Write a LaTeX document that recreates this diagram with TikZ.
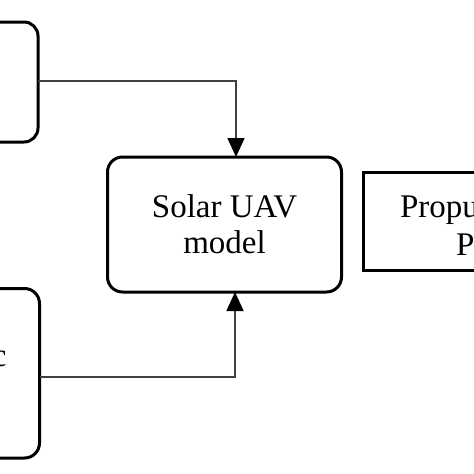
\documentclass[tikz,border=0pt]{standalone}
\usepackage{fontspec}
\setmainfont{Liberation Serif}
\usetikzlibrary{arrows.meta}
\begin{document}
\begin{tikzpicture}[x=1pt,y=-1pt,
  box/.style={draw=black, line width=3pt, inner sep=0pt, outer sep=0pt, rectangle},
  rbox/.style={box, rounded corners=15pt},
  conn/.style={draw=black!75, line width=1.6pt, -{Triangle[length=19pt,width=17pt,color=black]}},
  lbl/.style={font=\fontsize{33}{36}\selectfont, inner sep=0pt, outer sep=0pt, text=black}]
\useasboundingbox (0,0) rectangle (474,474);
\fill[white] (0,0) rectangle (474,474);
\clip (0,0) rectangle (474,474);
% boxes
\node[rbox, rounded corners=14pt, minimum width=197pt, minimum height=120pt] (tl) at (-60.5,82) {};
\node[rbox, minimum width=200pt, minimum height=169.5pt] (bl) at (-60.5,373.25) {};
\node[rbox, minimum width=234pt, minimum height=135pt, lbl, align=center] (solar) at (224.5,224.5) {Solar UAV\\model};
\node[box, minimum width=240pt, minimum height=98.5pt] (prop) at (483,221.25) {};
% visible text fragments of the cut boxes
\node[lbl, anchor=base west] (propa) at (400,217) {Propu};
\node[lbl, anchor=base west] (propb) at (456,255) {P};
\node[lbl, anchor=base east] (blt) at (6.5,366) {c};
% connectors
\draw[conn] ([yshift=1.3pt]tl.east) -| ([xshift=11.5pt]solar.north);
\draw[conn] ([yshift=-3.5pt]bl.east) -| ([xshift=10.5pt]solar.south);
\end{tikzpicture}
\end{document}
